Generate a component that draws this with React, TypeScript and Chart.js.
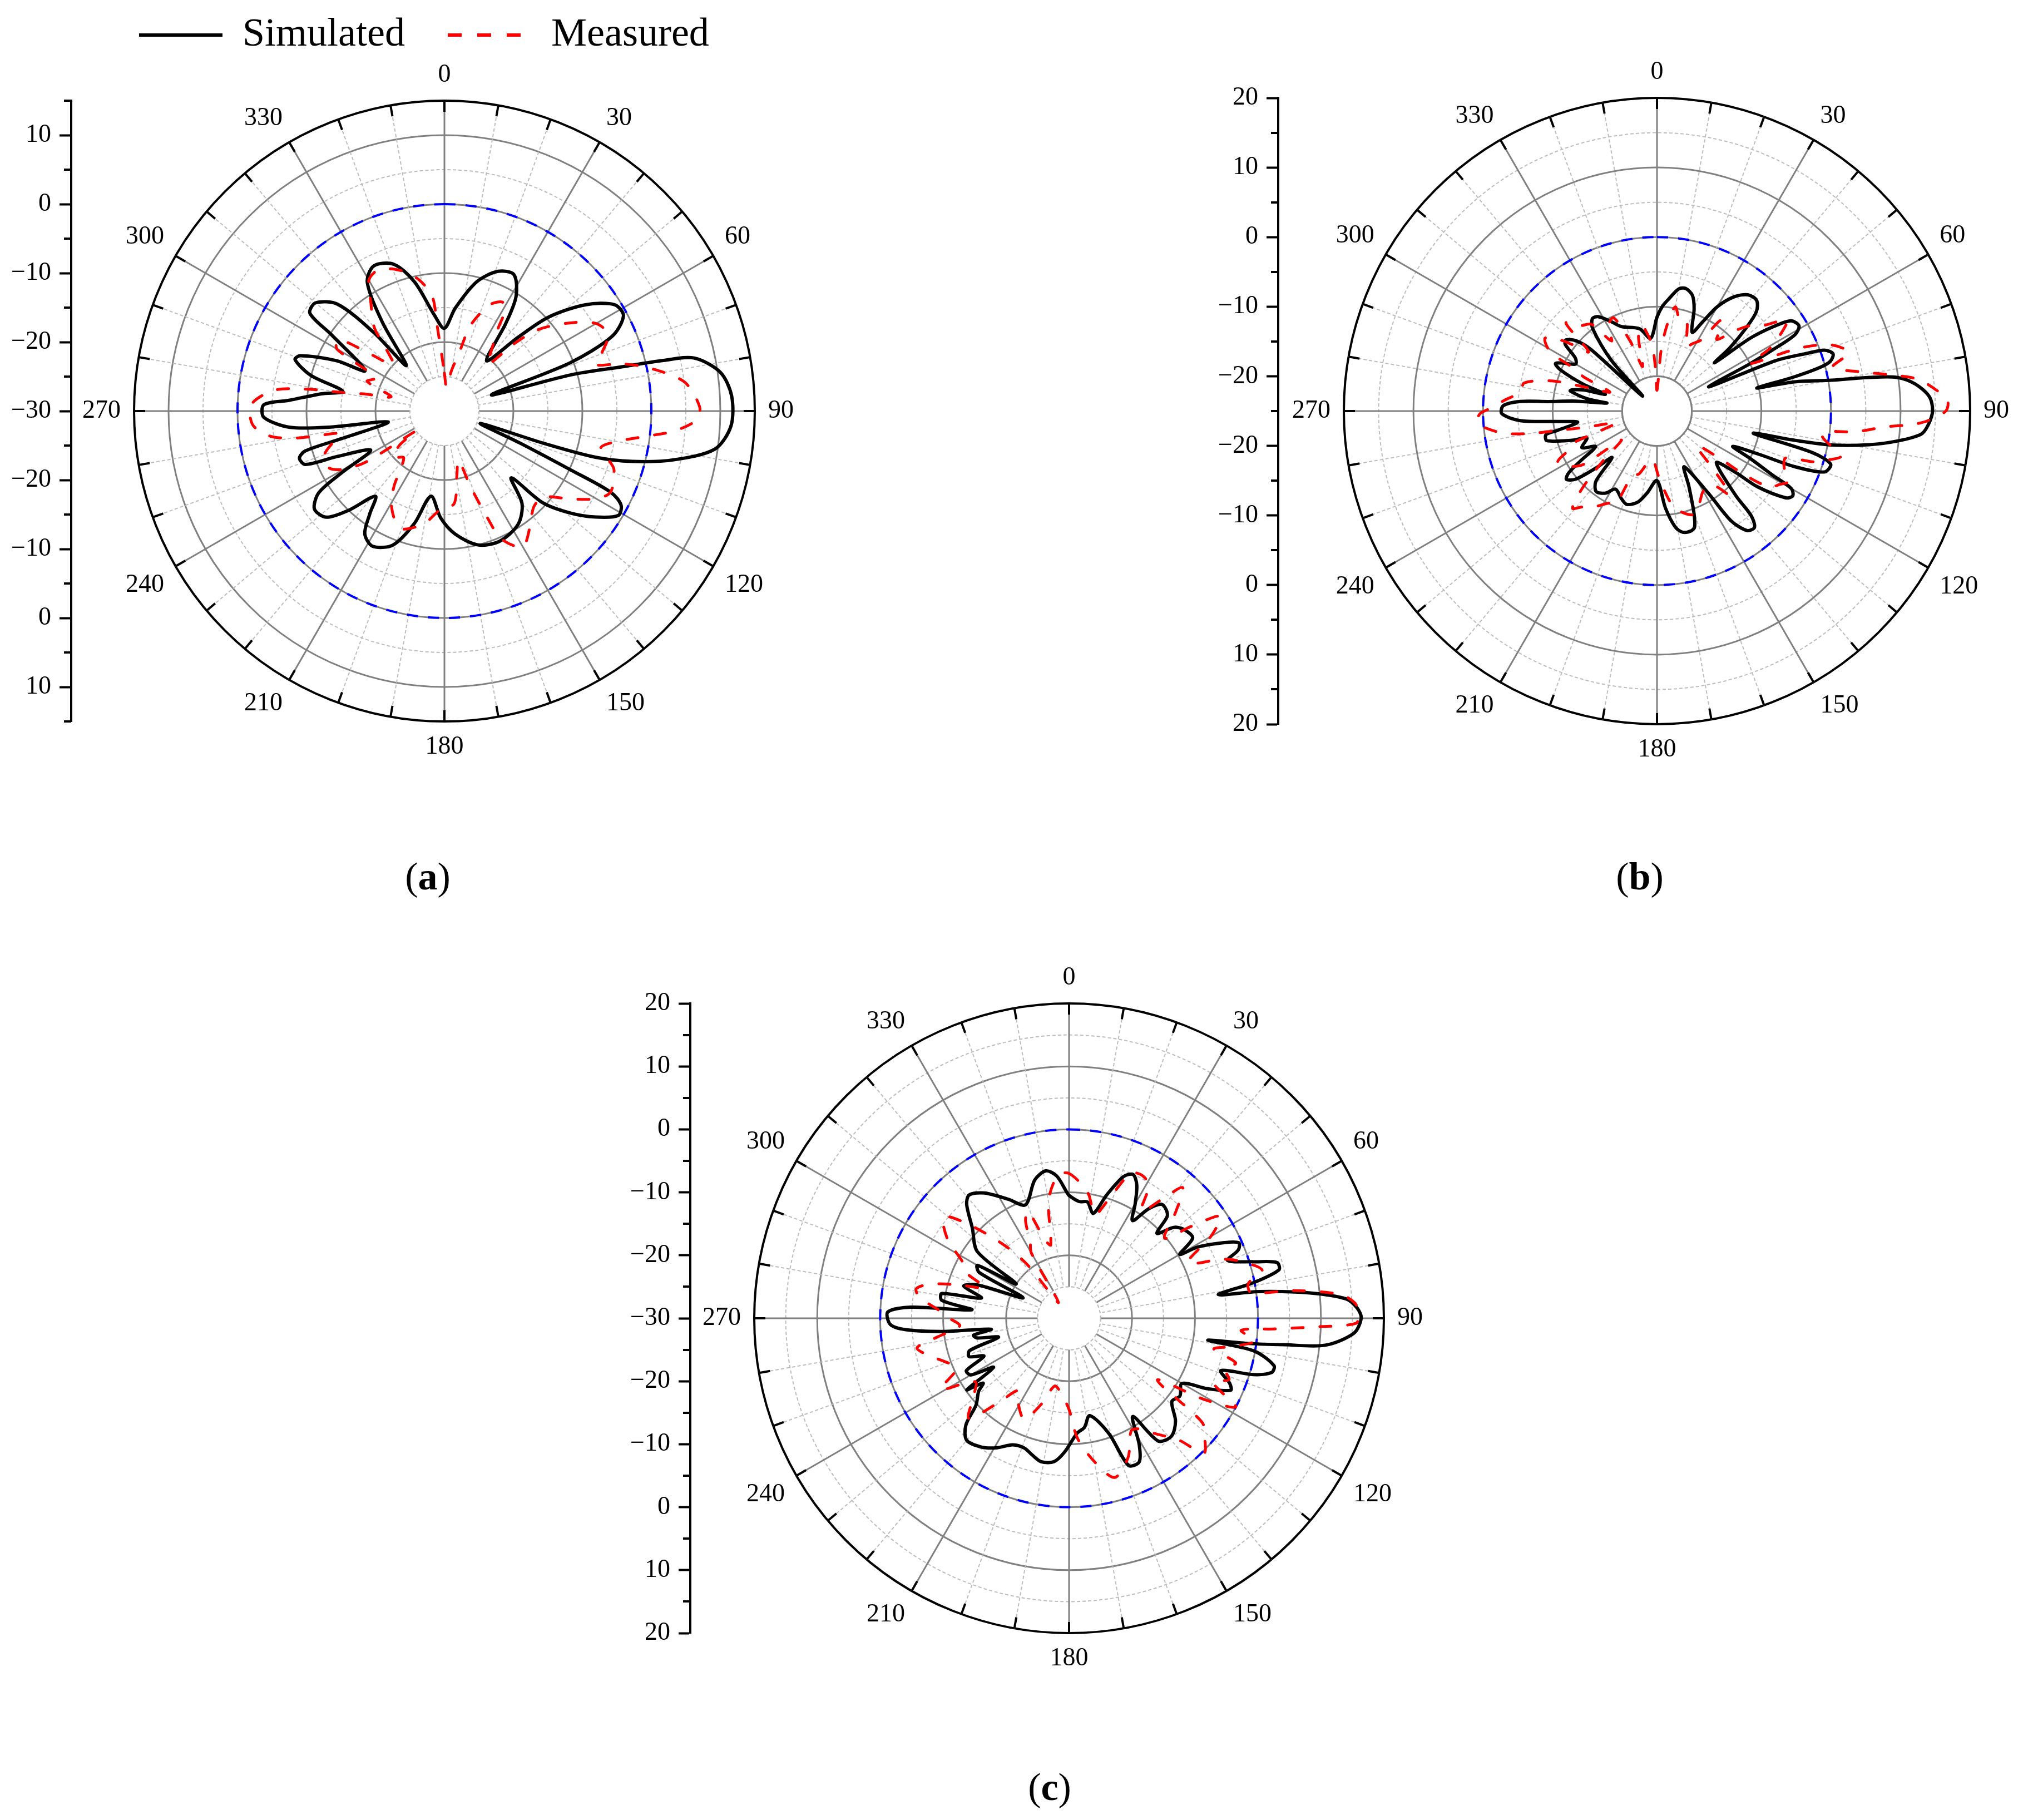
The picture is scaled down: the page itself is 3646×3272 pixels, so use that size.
import React, { useEffect, useRef } from 'react';
import { Chart, registerables } from 'chart.js';

Chart.register(...registerables);

const FONT = "'Liberation Serif', 'Times New Roman', Times, serif";
const SERIES_NAMES = ['Simulated', 'Measured'];
const ANGLE_TICKS = [0, 30, 60, 90, 120, 150, 180, 210, 240, 270, 300, 330];
const DEGREES = Array.from({ length: 360 }, (_, i) => String(i));

// ---- panel (a): [angle in degrees, gain in dB] ----
const SIM_A: [number, number][] = [
  [0, -18], [6, -15], [14, -10.7], [21, -8.3], [27, -7.8], [32, -10.4], [35, -14.5], [40, -20.5],
  [45, -14.8], [48, -9.6], [53, -4.4], [58, -0.9], [62, -0.6], [66, -3.4], [69, -10.5], [71, -22.8],
  [74, -11], [76, -3.5], [77, 2.6], [78, 7], [82, 10.4], [87, 11.7], [93, 11.6], [98, 9.6], [102, 4],
  [105, -1.8], [107, -7.1], [108, -14.8], [109, -24.5],
  [113, -18], [115, -9.8], [116, -3.2], [118, -1], [121, -0.6], [125, -3.2], [129, -6.5], [133, -10.5], [135, -16.3],
  [140, -12.5], [147, -10.4], [157, -9.5], [166, -10], [175, -12.1], [182, -14.5], [189, -17.5],
  [195, -13.1], [201, -9.2], [208, -7.8], [213, -8.8], [216, -11.6], [219, -14.1],
  [224, -10], [228, -7], [233, -6.4], [237, -8.3], [239, -12.6], [242, -17.9],
  [247, -13.2], [249, -8.4], [252, -7.9], [254, -9], [255, -14.6], [259, -21.7],
  [262, -13.4], [264, -7.5], [268, -3.8], [272, -3.8], [274, -7.5], [278, -12], [281, -15],
  [285, -9.9], [289, -7.1], [291, -7.6], [295, -12.7], [297, -17.1],
  [304, -10.3], [306, -5.9], [310, -5.6], [315, -8.1], [318, -14.6], [320, -21.4],
  [325, -14.4], [329, -8.3], [334, -6.6], [341, -7.5], [347, -10.8], [354, -16],
];
const MEAS_A: [number, number][] = [
  [0, -24.5], [5, -26.5], [10, -24], [14, -21.5], [17, -17], [23, -13.3], [28, -12.1], [31, -12.9],
  [33, -15.7], [38, -19], [43, -20.8], [46, -16], [49, -12], [55, -7.7], [60, -4.6], [65, -3.8],
  [70, -5.8], [73, -7], [75, -3.5], [78, 0.2], [83, 5], [89, 7], [92, 6.6], [95, 3.4], [97, -0.3],
  [100, -4.6], [103, -6.7], [106, -5.5], [109, -4], [116, -3.2], [120, -4.6], [125, -7.8], [131, -11],
  [137, -11], [143, -9.3], [150, -7.3], [156, -9.7], [158, -13.2], [161, -18.5], [164, -22.6], [169, -20.5],
  [174, -16.5], [182, -15.8], [190, -13.5], [199, -11.9], [204, -12.5], [210, -14.6], [214, -17], [221, -21],
  [228, -20], [233, -22], [235, -25], [237, -16.5], [240, -13.1], [244, -11.3], [250, -11.5], [255, -13.5],
  [258, -14.4], [259, -11], [260, -7.3], [262, -4.3], [266, -2.1], [272, -2], [277, -5.2], [279, -9.6],
  [280, -14], [282, -18], [285, -22], [291, -18], [296, -19], [300, -12], [304, -11.5], [307, -15.5],
  [312, -20], [317, -17.5], [320, -14.2], [326, -10.9], [330, -8.1], [335, -7.4], [342, -8.5], [349, -10.6],
  [354, -13.4], [355, -17.2], [357, -21.5],
];

// ---- panel (b) ----
const SIM_B: [number, number][] = [
  [0, -11.5], [3, -9.9], [6, -8.8], [10, -7.2], [13, -6.9], [17, -7.6], [20, -9.4], [24, -12.6],
  [27, -10.7], [30, -7.7], [34, -5.2], [38, -3.8], [42, -3.6], [45, -4.8], [47, -7.5], [49, -11.1], [50, -14.2],
  [52, -8], [54, -4.4], [56, -1.8], [59, -1.2], [61, -2.3], [62, -5.6], [63, -9.9], [65, -16.8],
  [67, -6.4], [69, -1.8], [70, 0.6], [72, 1.6], [74, 0.9], [75, -0.7], [76, -4.6], [77, -10.3],
  [78, -4.8], [80, 0.5], [81, 5.9], [82, 9.8], [84, 12.3], [87, 14.2], [90, 14.6], [93, 14], [95, 13.1],
  [97, 10], [99, 5.9], [101, 0.6], [102, -4.8], [103, -10.8],
  [105, -1.8], [107, 1.1], [110, 0.6], [112, -3.7], [113, -9.2], [115, -13],
  [117, -9.9], [119, -6], [120, -2.7], [122, -2], [124, -2.7], [127, -6.9], [128, -10.7], [131, -13.7],
  [137, -8.4], [138, -4.8], [140, -3.2], [143, -3.5], [146, -6], [148, -11.1], [154, -16.1],
  [157, -13.3], [160, -9.5], [162, -7.5], [164, -7.1], [168, -7.2], [171, -8.1], [175, -11], [180, -15],
  [187, -13.1], [192, -11.6], [198, -10.9], [202, -11.4], [208, -12.3], [212, -11.1], [217, -10.5], [221, -11.6], [224, -15.7],
  [227, -13], [230, -9.8], [233, -8.7], [235, -9.5], [237, -12], [240, -14.8], [244, -13],
  [249, -14.2], [251, -12.1], [255, -8.6], [258, -8.7], [259, -10.4], [262, -13.5],
  [264, -10.6], [266, -5.3], [269, -2.7], [272, -2.9], [274, -5.3], [275, -9.3], [277, -13.3], [279, -17.7],
  [280, -14.8], [283, -12.2], [284, -12.4], [286, -14], [288, -17.2],
  [290, -13.7], [293, -10], [295, -8.9], [297, -9.8], [300, -11.5], [303, -11], [306, -8.7], [308, -8.4],
  [311, -9.6], [313, -12.1], [316, -22],
  [318, -15.2], [322, -10], [325, -8.8], [328, -9], [333, -10.6], [337, -11.8], [348, -12.9], [355, -14.5],
];
const MEAS_B: [number, number][] = [
  [0, -22], [4, -16], [7, -12.2], [10, -9.8], [14, -11.5], [18, -11.3], [21, -13], [24, -14.9], [28, -14],
  [32, -12.9], [35, -9.1], [38, -10.5], [40, -11.6], [44, -9], [48, -6.5], [51, -5.5], [55, -2.2], [58, -4],
  [61, -6.5], [63, -10], [66, -3], [69, 1.6], [73, 3.8], [76, 1], [79, 4.6], [81, 8.5], [83, 12.7], [86, 15.5],
  [88, 16.8], [90, 16.5], [92, 14], [93, 11.8], [94, 7.8], [96, 3.6], [97, -0.7], [99, -0.9], [102, 1],
  [104, 2.2], [106, 0.5], [108, -1.4], [110, -5.3], [114, -5], [118, -3.5], [121, -4.5], [124, -5.4],
  [126, -9.2], [127, -13.5], [131, -17.5], [136, -13.2], [139, -9], [143, -11.7], [150, -11.7], [155, -10.5],
  [160, -9.2], [166, -10], [171, -11.4], [178, -15.3],
  [185, -18], [190, -17.5], [196, -15.6], [201, -15], [204, -10.5], [208, -10], [214, -8.3], [218, -7.5],
  [221, -6.5], [224, -9.5], [227, -14], [231, -18.4], [234, -12], [238, -10], [243, -9], [246, -11], [249, -12],
  [251, -16.6], [254, -19], [257, -14.9], [259, -10.3], [260, -6.5], [262, -2.5], [266, 0.8], [269, 0.5],
  [271, -1.1], [274, -3], [278, -5.2], [282, -5.5], [286, -9.3], [289, -15], [292, -17.7], [295, -13.3],
  [297, -11.9], [299, -7.5], [303, -5.8], [306, -7.5], [308, -9.4], [311, -12], [314, -6.8], [318, -8.5],
  [323, -9.4], [327, -13], [330, -11], [335, -10.2], [339, -14.2], [342, -18.3], [346, -14], [350, -12.5],
  [353, -13.9], [356, -15.6], [358, -19],
];

// ---- panel (c) ----
const SIM_C: [number, number][] = [
  [0, -10.5], [5, -11.4], [9, -11.3], [13, -12.9], [17, -9.5], [21, -5.9], [24, -5], [27, -6.3], [30, -9],
  [33, -11.5], [36, -8.5], [39, -6.7], [42, -6.9], [44, -7.6], [46, -10.6], [49, -8], [52, -7], [57, -6.6],
  [60, -9.7], [61, -6.7], [64, -2.6], [66, -0.5], [68, -1], [70, -3.2], [73, 0.7], [75, 4.2], [77, 4.2],
  [79, 0], [81, -6], [82, 0.5], [84, 8.5], [86, 14.1], [88, 15.8], [90, 16.4], [93, 15.3], [96, 10.9],
  [97, 4.5], [98, -1.2], [99, -7.7], [100, -0.2], [103, 3.4], [105, 3.3], [107, 0.6], [109, -4.5],
  [112, -2.5], [114, -1.9], [117, -5.4], [120, -9.3], [125, -8.5], [129, -9], [134, -6.5], [139, -5.2],
  [144, -5.9], [147, -11.4], [151, -7], [154, -4.6], [158, -4.8], [161, -10.7], [168, -14.2], [172, -12.5],
  [176, -11.7], [182, -8.7], [186, -7.1], [191, -6.8], [195, -7.5], [199, -8.2], [204, -8], [209, -6.5],
  [214, -5.3], [220, -4.7], [224, -6.4], [227, -9.8], [231, -11.5], [233, -12.9], [235, -10.2], [237, -15.7],
  [240, -12], [243, -11.7], [246, -15.2], [249, -13], [252, -13.4], [255, -18.4], [258, -15], [260, -14.6],
  [262, -17.5], [264, -10], [266, -4], [268, -1.6], [272, -1.2], [274, -4.8], [275, -14.5], [278, -9.6],
  [281, -9.4], [283, -15.7], [287, -12.5], [290, -14.5], [294, -22], [297, -14], [300, -13.2], [303, -20],
  [306, -12], [313, -9], [318, -5.7], [321, -4.8], [326, -6], [333, -8.8], [339, -10.7], [346, -7.4],
  [351, -6.3], [355, -7.3], [359, -10],
];
const MEAS_C: [number, number][] = [
  [0, -7], [5, -8.5], [9, -10.1], [14, -13], [18, -10.5], [23, -5], [27, -4.5], [31, -5.4], [34, -9.5],
  [38, -6], [41, -2.5], [45, -6], [50, -10.2], [53, -5.8], [56, -1], [60, -4], [65, -9.2], [69, -3.8],
  [72, -1], [76, 1.6], [79, -1], [82, -0.8], [83, 6.1], [85, 13.3], [87, 15.5], [89, 15.9], [91, 15.6],
  [92, 9], [93, 2.5], [94, -2.6], [97, -0.3], [100, -4], [102, -6.5], [105, -2.6], [108, -4], [111, -2.8],
  [114, -5], [118, 0], [121, -5], [125, -12.9], [128, -3.2], [131, -1.5], [135, 0.3], [138, -4], [143, -7],
  [147, -9], [151, -9.6], [157, -6], [164, -3.7], [170, -6.9], [176, -10.9], [180, -15.5], [186, -18],
  [192, -19], [198, -15.6], [204, -12.5], [210, -14], [215, -16], [220, -12.5], [225, -7.5], [230, -10],
  [236, -12], [241, -6.7], [246, -10.5], [251, -9], [255, -7], [259, -5.4], [262, -9], [266, -12.6],
  [270, -11], [274, -9], [278, -6], [281, -5.3], [284, -7.5], [287, -12], [290, -15.8], [294, -12],
  [298, -10.8], [303, -7], [309, -4.4], [313, -8.1], [318, -14], [322, -19], [326, -27], [330, -18],
  [333, -16.4], [336, -13], [339, -11.8], [343, -17], [346, -18], [350, -11.2], [354, -8], [357, -7],
];

// ---- styles ----
const BLACK = '#000000';
const RED = '#ff0000';
const BLUE = '#0000ff';
const GRID_MAJOR = '#808080';
const GRID_MINOR = '#bdbdbd';
const TICK_FONT = 46;

type Panel = {
  key: string;
  sim: [number, number][];
  meas: [number, number][];
  rMin: number;
  rMax: number;
  hole: number;
  holeSolid: boolean;
  box: { left: number; top: number; width: number; height: number };
  pad: { left: number; top: number; right: number; bottom: number };
  caption: { x: number; y: number };
};

const PANELS: Panel[] = [
  {
    key: 'a', sim: SIM_A, meas: MEAS_A, rMin: -30, rMax: 15, hole: -25, holeSolid: false,
    box: { left: 0, top: 80, width: 1470, height: 1337 },
    pad: { left: 8, top: 101, right: 0, bottom: 120 },
    caption: { x: 769, y: 1582 },
  },
  {
    key: 'b', sim: SIM_B, meas: MEAS_B, rMin: -25, rMax: 20, hole: -20, holeSolid: true,
    box: { left: 2170, top: 80, width: 1490, height: 1342 },
    pad: { left: 8, top: 96, right: 0, bottom: 120 },
    caption: { x: 2948, y: 1582 },
  },
  {
    key: 'c', sim: SIM_C, meas: MEAS_C, rMin: -30, rMax: 20, hole: -25, holeSolid: false,
    box: { left: 1113, top: 1700, width: 1490, height: 1356 },
    pad: { left: 8, top: 104, right: 0, bottom: 120 },
    caption: { x: 1887, y: 3219 },
  },
];

const toSeries = (pairs: [number, number][]) => {
  const arr: (number | null)[] = new Array(360).fill(null);
  pairs.forEach(([a, v]) => {
    const idx = ((Math.round(a) % 360) + 360) % 360;
    arr[idx] = v;
  });
  return arr;
};

const fmt = (v: number) => (v < 0 ? '\u2212' + Math.abs(v) : String(v));
const dbOf = (p: Panel, t: number) => p.rMin + Math.abs(t);
const isMajor = (p: Panel, t: number) => Math.abs(dbOf(p, t) % 10) < 1e-9;

const decorPlugin = (p: Panel) => ({
  id: 'polarDecor_' + p.key,
  beforeDatasetsDraw(chart: any) {
    const r = chart.scales.r;
    const ctx = chart.ctx;
    const cx = r.xCenter;
    const cy = r.yCenter;
    const holeR = r.getDistanceFromCenterForValue(p.hole);
    ctx.save();
    // blank centre
    ctx.beginPath();
    ctx.arc(cx, cy, holeR, 0, Math.PI * 2);
    ctx.fillStyle = '#ffffff';
    ctx.fill();
    ctx.beginPath();
    ctx.arc(cx, cy, holeR, 0, Math.PI * 2);
    if (p.holeSolid) {
      ctx.setLineDash([]);
      ctx.strokeStyle = GRID_MAJOR;
      ctx.lineWidth = 3;
    } else {
      ctx.setLineDash([6, 4]);
      ctx.strokeStyle = GRID_MINOR;
      ctx.lineWidth = 2;
    }
    ctx.stroke();
    // 0 dB reference circle
    const r0 = r.getDistanceFromCenterForValue(0);
    ctx.beginPath();
    ctx.arc(cx, cy, r0, -Math.PI / 2, Math.PI * 1.5);
    ctx.setLineDash([20, 18]);
    ctx.strokeStyle = BLUE;
    ctx.lineWidth = 4;
    ctx.stroke();
    // ticks on the outer circle
    const R = r.drawingArea;
    ctx.setLineDash([]);
    ctx.strokeStyle = BLACK;
    ctx.lineWidth = 4;
    for (let a = 0; a < 360; a += 10) {
      const o = r.getPointPosition(a, R);
      const i = r.getPointPosition(a, R - 20);
      ctx.beginPath();
      ctx.moveTo(o.x, o.y);
      ctx.lineTo(i.x, i.y);
      ctx.stroke();
    }
    ctx.restore();
  },
  afterDraw(chart: any) {
    const r = chart.scales.r;
    const y = chart.scales.y;
    const ctx = chart.ctx;
    ctx.save();
    // angle labels
    ctx.font = `${TICK_FONT}px ${FONT}`;
    ctx.fillStyle = BLACK;
    ctx.textBaseline = 'middle';
    const dist = r.drawingArea + 24;
    ANGLE_TICKS.forEach((a) => {
      const pos = r.getPointPosition(a, dist);
      let yy = pos.y;
      if (a === 0 || a === 180) ctx.textAlign = 'center';
      else if (a < 180) ctx.textAlign = 'left';
      else ctx.textAlign = 'right';
      if (a !== 90 && a !== 270) {
        if (a < 90 || a > 270) yy -= 22;
        else yy += 22;
      }
      ctx.fillText(String(a), pos.x, yy);
    });
    // minor ticks of the dB axis
    ctx.strokeStyle = BLACK;
    ctx.lineWidth = 4;
    ctx.setLineDash([]);
    const xAxis = y.right;
    y.ticks.forEach((t: any) => {
      if (!isMajor(p, t.value)) {
        const py = Math.round(y.getPixelForValue(t.value));
        ctx.beginPath();
        ctx.moveTo(xAxis - 13, py);
        ctx.lineTo(xAxis, py);
        ctx.stroke();
      }
    });
    ctx.restore();
  },
});

const makeConfig = (p: Panel): any => {
  const span = p.rMax - p.rMin;
  return {
    type: 'radar',
    data: {
      labels: DEGREES,
      datasets: [
        {
          label: SERIES_NAMES[0],
          data: toSeries(p.sim),
          borderColor: BLACK,
          backgroundColor: 'rgba(0,0,0,0)',
          borderWidth: 6,
          borderJoinStyle: 'round',
          pointRadius: 0,
          pointHoverRadius: 0,
          fill: false,
          spanGaps: true,
          tension: 0.3,
          order: 2,
        },
        {
          label: SERIES_NAMES[1],
          data: toSeries(p.meas),
          borderColor: RED,
          backgroundColor: 'rgba(0,0,0,0)',
          borderWidth: 5,
          borderDash: [20, 30],
          borderCapStyle: 'round',
          borderJoinStyle: 'round',
          pointRadius: 0,
          pointHoverRadius: 0,
          fill: false,
          spanGaps: true,
          tension: 0.3,
          order: 1,
        },
      ],
    },
    options: {
      responsive: false,
      animation: false,
      devicePixelRatio: 1,
      events: [],
      layout: { padding: p.pad },
      plugins: { legend: { display: false }, tooltip: { enabled: false } },
      scales: {
        r: {
          min: p.rMin,
          max: p.rMax,
          startAngle: 0,
          ticks: { display: false, stepSize: 5 },
          pointLabels: { display: false },
          grid: {
            circular: true,
            color: (c: any) => {
              const v = c.tick ? c.tick.value : 0;
              if (v === p.rMax) return BLACK;
              if (Math.abs(v % 10) < 1e-9) return GRID_MAJOR;
              return GRID_MINOR;
            },
            lineWidth: (c: any) => {
              const v = c.tick ? c.tick.value : 0;
              if (v === p.rMax) return 4;
              if (Math.abs(v % 10) < 1e-9) return 3;
              return 2;
            },
          },
          border: {
            dash: (c: any) => {
              const v = c.tick ? c.tick.value : 0;
              if (v === p.rMax || Math.abs(v % 10) < 1e-9) return [];
              return [6, 4];
            },
          },
          angleLines: {
            display: true,
            color: (c: any) => (c.index % 30 === 0 ? GRID_MAJOR : GRID_MINOR),
            lineWidth: (c: any) => (c.index % 30 === 0 ? 3 : c.index % 10 === 0 ? 2 : 0),
            borderDash: (c: any) => (c.index % 30 === 0 ? [] : [6, 4]),
          },
        },
        y: {
          type: 'linear',
          position: 'left',
          min: -span,
          max: span,
          afterFit: (s: any) => {
            s.width = 120;
          },
          border: { display: true, color: BLACK, width: 4 },
          grid: {
            drawOnChartArea: false,
            drawTicks: true,
            tickLength: 21,
            tickWidth: 4,
            tickColor: (c: any) => (c.tick && isMajor(p, c.tick.value) ? BLACK : 'rgba(0,0,0,0)'),
          },
          ticks: {
            stepSize: 5,
            autoSkip: false,
            padding: 15,
            color: BLACK,
            font: { family: FONT, size: TICK_FONT },
            callback: (v: any) => {
              const t = Number(v);
              return isMajor(p, t) ? fmt(dbOf(p, t)) : '';
            },
          },
        },
      },
    },
    plugins: [decorPlugin(p)],
  };
};

const LEGEND_STYLES = [
  { color: BLACK, dash: [] as number[] },
  { color: RED, dash: [25, 28] },
];

const legendConfig = (): any => ({
  type: 'line',
  data: {
    labels: [],
    datasets: SERIES_NAMES.map((name, i) => ({
      label: name,
      data: [],
      borderColor: LEGEND_STYLES[i].color,
      borderDash: LEGEND_STYLES[i].dash,
      borderWidth: 6,
    })),
  },
  options: {
    responsive: false,
    animation: false,
    devicePixelRatio: 1,
    events: [],
    scales: { x: { display: false }, y: { display: false } },
    plugins: {
      tooltip: { enabled: false },
      legend: {
        display: true,
        position: 'top',
        align: 'start',
        labels: {
          usePointStyle: true,
          pointStyle: 'line',
          pointStyleWidth: 150,
          boxWidth: 150,
          padding: 77,
          color: BLACK,
          font: { family: FONT, size: 72 },
          generateLabels: (chart: any) =>
            chart.data.datasets.map((ds: any, i: number) => ({
              text: ds.label,
              fillStyle: 'rgba(0,0,0,0)',
              strokeStyle: ds.borderColor,
              lineWidth: 6,
              lineDash: ds.borderDash || [],
              lineCap: 'butt',
              pointStyle: 'line',
              hidden: false,
              datasetIndex: i,
              fontColor: BLACK,
            })),
        },
      },
    },
  },
});

export default function App() {
  const canvasRefs = useRef<(HTMLCanvasElement | null)[]>([]);
  const legendRef = useRef<HTMLCanvasElement | null>(null);

  useEffect(() => {
    document.body.style.margin = '0';
    document.body.style.overflow = 'hidden';
    const charts: Chart[] = [];
    PANELS.forEach((p, i) => {
      const el = canvasRefs.current[i];
      if (el) charts.push(new Chart(el, makeConfig(p)));
    });
    if (legendRef.current) charts.push(new Chart(legendRef.current, legendConfig()));
    return () => charts.forEach((c) => c.destroy());
  }, []);

  return (
    <div
      style={{
        position: 'absolute',
        left: 0,
        top: 0,
        width: 3646,
        height: 3272,
        overflow: 'hidden',
        background: '#ffffff',
      }}
    >
      {PANELS.map((p, i) => (
        <canvas
          key={'c' + p.key}
          ref={(el) => {
            canvasRefs.current[i] = el;
          }}
          width={p.box.width}
          height={p.box.height}
          style={{
            position: 'absolute',
            left: p.box.left,
            top: p.box.top,
            width: p.box.width,
            height: p.box.height,
          }}
        />
      ))}
      <canvas
        ref={legendRef}
        width={1300}
        height={420}
        style={{ position: 'absolute', left: 173, top: -50, width: 1300, height: 420 }}
      />
      {PANELS.map((p) => (
        <div
          key={'cap' + p.key}
          style={{
            position: 'absolute',
            left: p.caption.x - 100,
            top: p.caption.y - 41,
            width: 200,
            textAlign: 'center',
            fontFamily: FONT,
            fontSize: 70,
            lineHeight: '70px',
            color: '#000',
          }}
        >
          (<b>{p.key}</b>)
        </div>
      ))}
    </div>
  );
}
